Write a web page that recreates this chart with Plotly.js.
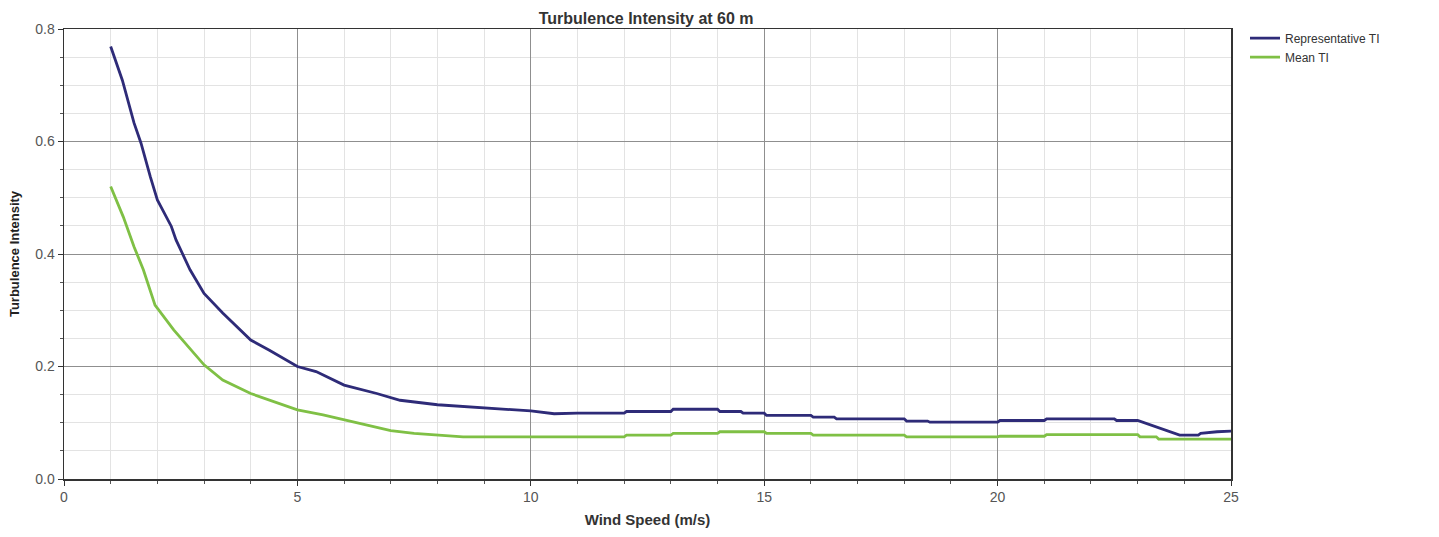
<!DOCTYPE html>
<html>
<head>
<meta charset="utf-8">
<script src="https://cdn.plot.ly/plotly-3.0.1.min.js"></script>
<style>html,body{margin:0;padding:0;background:#fff;}#chart{width:1439px;height:537px;}</style>
</head>
<body>
<div id="chart"></div>
<script>
var repSpeed = [1.0,1.25,1.5,1.65,1.85,2.0,2.3,2.4,2.7,3.0,3.4,4.0,4.4,5.0,5.4,6.0,6.7,7.2,8.0,8.5,9.5,10.0,10.5,11.0,12.0,12.05,13.0,13.05,14.0,14.05,14.5,14.55,15.0,15.05,16.0,16.05,16.5,16.55,18.0,18.05,18.5,18.55,20.0,20.05,21.0,21.05,22.5,22.55,23.0,23.4,23.8,23.9,24.3,24.35,24.7,25.0];
var repTI = [0.769,0.709,0.633,0.597,0.537,0.496,0.449,0.425,0.372,0.330,0.295,0.247,0.229,0.200,0.191,0.167,0.152,0.140,0.132,0.129,0.124,0.121,0.116,0.117,0.117,0.120,0.120,0.124,0.124,0.120,0.120,0.117,0.117,0.113,0.113,0.110,0.110,0.107,0.107,0.103,0.103,0.101,0.101,0.104,0.104,0.107,0.107,0.104,0.104,0.093,0.082,0.078,0.078,0.081,0.084,0.085];
var meanSpeed = [1.0,1.27,1.5,1.7,1.95,2.35,3.0,3.4,4.0,5.0,5.55,6.0,6.3,7.0,7.5,8.4,8.55,12.0,12.05,13.0,13.05,14.0,14.05,15.0,15.05,16.0,16.05,18.0,18.05,20.0,20.05,21.0,21.05,23.0,23.05,23.4,23.45,25.0];
var meanTI = [0.520,0.466,0.413,0.372,0.309,0.265,0.203,0.176,0.152,0.123,0.114,0.105,0.099,0.086,0.081,0.076,0.075,0.075,0.078,0.078,0.081,0.081,0.084,0.084,0.081,0.081,0.078,0.078,0.075,0.075,0.076,0.076,0.079,0.079,0.075,0.075,0.071,0.071];
var xTicks = [0,5,10,15,20,25];
var yTicks = [0.0,0.2,0.4,0.6,0.8];
var yTickText = ['0.0','0.2','0.4','0.6','0.8'];

var traces = [
  {x: repSpeed, y: repTI, type: 'scatter', mode: 'lines', name: 'Representative TI',
   line: {color: '#2e2b78', width: 2.8}},
  {x: meanSpeed, y: meanTI, type: 'scatter', mode: 'lines', name: 'Mean TI',
   line: {color: '#7fc045', width: 2.8}}
];
var font = 'Liberation Sans, Arial, sans-serif';
var layout = {
  width: 1439, height: 537,
  margin: {l: 64, r: 208, t: 29, b: 58},
  paper_bgcolor: '#fff', plot_bgcolor: '#fff',
  font: {family: font, color: '#444', size: 13},
  title: {text: '<b>Turbulence Intensity at 60 m</b>', font: {family: font, size: 16, color: '#333'},
          x: 0.449, xanchor: 'center', y: 0.965, yanchor: 'middle'},
  xaxis: {range: [0, 25], tickvals: xTicks, ticks: 'outside', ticklen: 5, tickcolor: '#333',
          showgrid: true, gridcolor: '#8f8f8f', gridwidth: 1,
          showline: true, linecolor: '#333', linewidth: 1.5, mirror: true, zeroline: false,
          tickfont: {size: 14, color: '#555'},
          minor: {dtick: 1, showgrid: true, gridcolor: '#e3e3e3', ticks: 'outside', ticklen: 3, tickcolor: '#555'},
          title: {text: '<b>Wind Speed (m/s)</b>', font: {family: font, size: 15, color: '#333'}, standoff: 10}},
  yaxis: {range: [0, 0.8], tickvals: yTicks, ticktext: yTickText, ticks: 'outside', ticklen: 5, tickcolor: '#333',
          showgrid: true, gridcolor: '#8f8f8f', gridwidth: 1,
          showline: true, linecolor: '#333', linewidth: 1.5, mirror: true, zeroline: false,
          tickfont: {size: 14, color: '#555'},
          minor: {dtick: 0.05, showgrid: true, gridcolor: '#e3e3e3', ticks: 'outside', ticklen: 3, tickcolor: '#555'},
          title: {text: '<b>Turbulence Intensity</b>', font: {family: font, size: 13, color: '#222'}, standoff: 12}},
  legend: {x: 1.012, y: 1.012, xanchor: 'left', yanchor: 'top', font: {family: font, size: 12, color: '#333'},
           bgcolor: 'rgba(0,0,0,0)', tracegroupgap: 0, itemwidth: 30},
  showlegend: true
};
Plotly.newPlot('chart', traces, layout, {displayModeBar: false, staticPlot: true});
</script>
</body>
</html>
